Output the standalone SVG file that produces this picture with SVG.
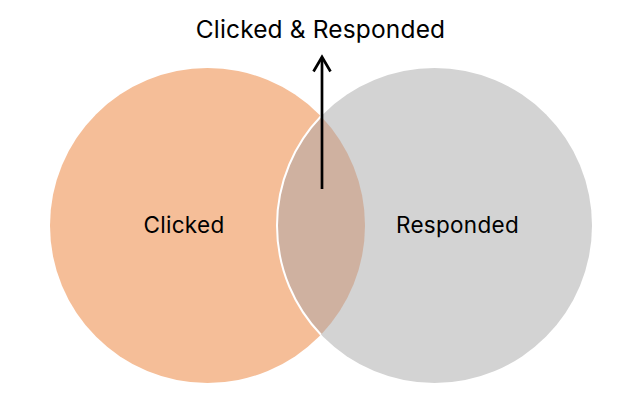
<svg xmlns="http://www.w3.org/2000/svg" width="631" height="402" viewBox="0 0 631 402">
<style>
text{font-family:Inter,"Liberation Sans",sans-serif;fill:#000}
.t{font-size:24.5px;letter-spacing:0.15px}
.l{font-size:22.5px;letter-spacing:0.3px}
</style>
<rect width="631" height="402" fill="#fff"/>
<g id="clicked">
<circle cx="207.5" cy="225.5" r="157.5" fill="#F5BE98"/>
</g>
<g id="responded">
<circle cx="434.5" cy="225.5" r="157.5" fill="#D3D3D3"/>
</g>
<g id="overlap">
<path d="M321,116.3 A157.5,157.5 0 0 1 321,334.7 A157.5,157.5 0 0 1 321,116.3 Z" fill="#CFB1A0"/>
<path d="M321,116.3 A157.5,157.5 0 0 0 321,334.7" fill="none" stroke="#fff" stroke-width="2"/>
</g>
<g id="labels">
<text class="l" x="184" y="232.5" text-anchor="middle">Clicked</text>
<text class="l" x="457.5" y="232.5" text-anchor="middle">Responded</text>
<text class="t" x="320.5" y="37.5" text-anchor="middle">Clicked &amp; Responded</text>
</g>
<g id="connectors" fill="none" stroke="#000" stroke-width="2.7">
<line x1="322" y1="189" x2="322" y2="58"/>
<polyline points="313.5,71.5 322,57 330.5,71.5" stroke-linejoin="miter"/>
</g>
</svg>
